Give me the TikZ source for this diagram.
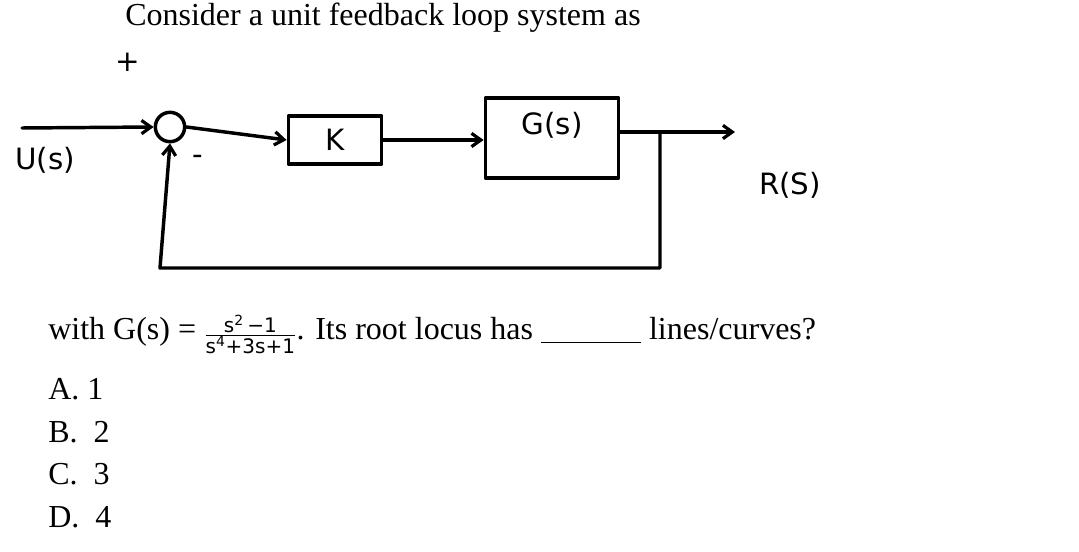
\documentclass[tikz,border=0pt]{standalone}
\usepackage{fontspec}
\setmainfont{Liberation Serif}
\newfontfamily\hand{DejaVu Sans}
\newfontfamily\fr{DejaVu Sans}
\usetikzlibrary{arrows.meta}
\begin{document}
\begin{tikzpicture}[x=0.75pt,y=-0.75pt,
  ink/.style={line width=2.6pt,line cap=round,line join=round},
  arr/.style={ink,-{Straight Barb[length=7pt,width=10pt,line width=2.4pt]}},
  txt/.style={font=\fontsize{24}{28}\selectfont,anchor=base west,inner sep=0},
  hw/.style={font=\hand\fontsize{22}{24}\selectfont,inner sep=0}]
\useasboundingbox (0,0) rectangle (1079,552);
\node[txt] (title) at (125,26) {Consider a unit feedback loop system as};
\node[hw] (plus) at (128,62) {+};
\coordinate (in) at (22,128);
\node[ink,draw,circle,minimum size=22pt,inner sep=0] (sum) at (170,127) {};
\draw[arr] (in) -- (sum.west);
\node[ink,draw,minimum width=70pt,minimum height=36pt] (K) at (335,140) {};
\node[hw] at (K) {K};
\draw[arr] (sum.east) -- (K.west);
\node[ink,draw,minimum width=100pt,minimum height=60pt] (G) at (552,138) {};
\node[hw] at (552,125) {G(s)};
\draw[arr] (K.east) -- (G.west|-K.east);
\coordinate (out) at (735,132);
\coordinate (br) at (660,132);
\draw[arr] (G.east|-out) -- (out);
\draw[arr] (br) -- (660,268) -- (160,268) -- (sum.south);
\node[hw] (u) at (45,160) {U(s)};
\node[hw] (minus) at (198,160) {-};
\node[hw] (r) at (790,185) {R(S)};
\node[txt] (eq) at (48,340) {with G(s) = {\fr\fontsize{15}{16}\selectfont$\frac{\hbox{\fr s\textsuperscript{2}\,−1}}{\hbox{\fr s\textsuperscript{4}+3s+1}}$}. Its root locus has \underline{\hspace{75pt}} lines/curves?};
\node[txt] (a) at (48,400) {A. 1};
\node[txt] (b) at (48,443) {B.\ \ 2};
\node[txt] (c) at (48,484) {C.\ \ 3};
\node[txt] (d) at (48,527) {D.\ \ 4};
\end{tikzpicture}
\end{document}
